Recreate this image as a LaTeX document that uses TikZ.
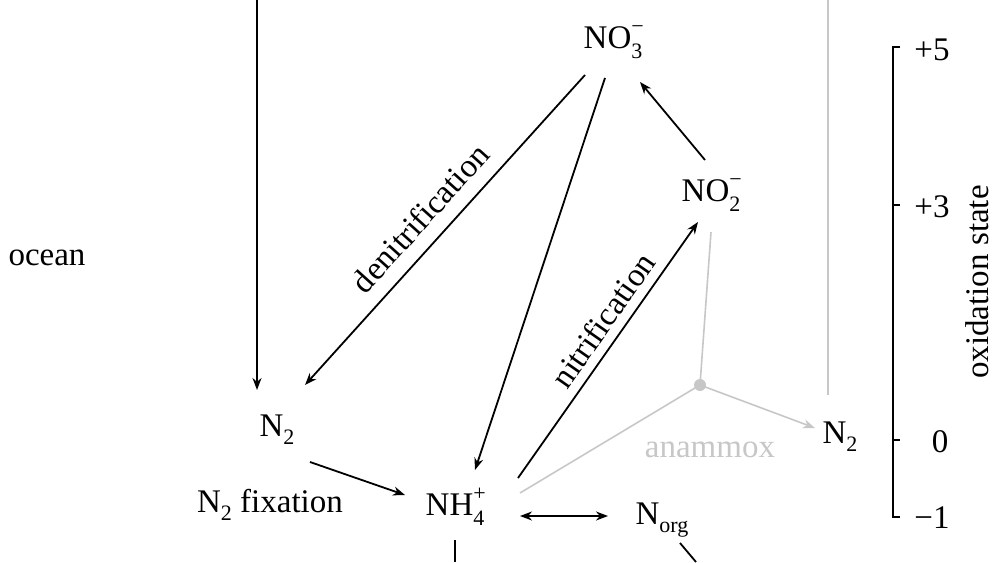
\documentclass[tikz,border=0pt]{standalone}
\usepackage{fontspec}
\setmainfont{Liberation Serif}
\usetikzlibrary{arrows.meta}
\newcommand{\mysb}[1]{\raisebox{-0.25em}{\fontsize{22}{24}\selectfont #1}}
\newcommand{\mysps}[2]{\rlap{\raisebox{0.45em}{\fontsize{22}{24}\selectfont #1}}\raisebox{-0.3em}{\fontsize{22}{24}\selectfont #2}}
\begin{document}
\begin{tikzpicture}[x=1pt,y=-1pt,
  lbl/.style={font=\fontsize{33}{37}\selectfont,inner sep=0pt},
  arr/.style={-{Stealth[length=12pt,width=9pt]},line width=1.8pt},
  gr/.style={draw=black!22,line width=1.6pt},
  ax/.style={line width=2pt}]
\useasboundingbox (0,0) rectangle (1000,562);
\node[lbl] (ocean) at (47,258) {ocean};
\node[lbl] (no3) at (613,42) {NO\mysps{−}{3}};
\node[lbl] (no2) at (711,195) {NO\mysps{−}{2}};
\node[lbl] (n2l) at (277,430) {N\mysb{2}};
\node[lbl] (nh4) at (455,507) {NH\mysps{+}{4}};
\node[lbl] (norg) at (662,520) {N\mysb{org}};
\node[lbl] (n2r) at (840,437) {N\mysb{2}};
\node[lbl,text=black!22] (anam) at (710,450) {anammox};
\node[lbl] (fix) at (270,505) {N\mysb{2} fixation};
\coordinate (top) at (257,0);
\coordinate (nl) at (257,390);
\draw[arr] (top) -- (nl);
\coordinate (d) at (700,385);
\fill[black!22] (d) circle (6pt);
\draw[gr] (520,493) -- (d) -- (711,232);
\draw[gr,-{Stealth[length=12pt,width=9pt]}] (d) -- (815,428);
\draw[gr] (828,0) -- (828,395);
\draw[arr] (585,75) -- (305,385);
\draw[arr] (605,78) -- (475,470);
\draw[arr] (705,160) -- (640,82);
\draw[arr] (518,478) -- (698,222);
\draw[arr] (310,462) -- (405,495);
\draw[arr,{Stealth[length=12pt,width=9pt]}-{Stealth[length=12pt,width=9pt]}] (520,516) -- (608,516);
\draw[line width=1.8pt] (455,540) -- (455,562);
\draw[line width=1.8pt] (680,543) -- (696,562);
\node[lbl,rotate=48] (den) at (420,218) {denitrification};
\node[lbl,rotate=55] (nit) at (603,320) {nitrification};
\draw[ax] (900,47) -- (893,47) -- (893,517) -- (900,517);
\draw[ax] (893,205) -- (900,205);
\draw[ax] (893,440) -- (900,440);
\node[lbl] (p5) at (932,50) {+5};
\node[lbl] (p3) at (932,207) {+3};
\node[lbl] (z) at (940,442) {0};
\node[lbl] (m1) at (932,518) {−1};
\node[lbl,rotate=90] (ox) at (977,282) {oxidation state};
\end{tikzpicture}
\end{document}
